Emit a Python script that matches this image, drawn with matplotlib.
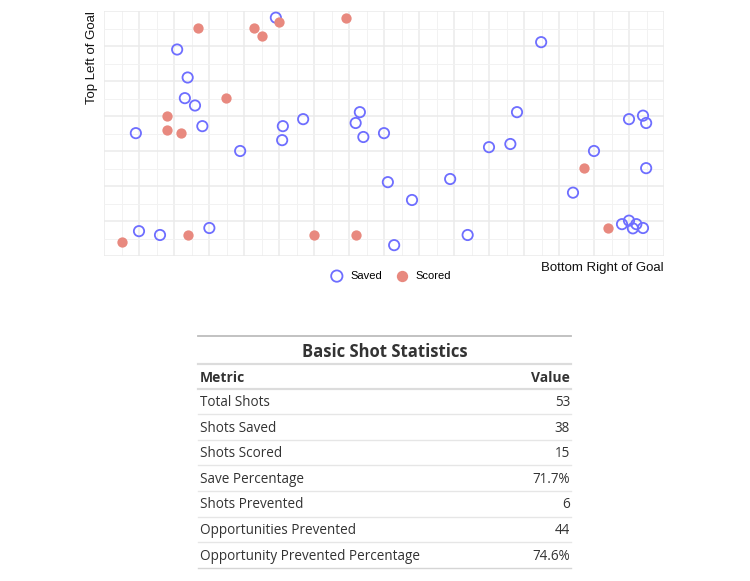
import matplotlib
matplotlib.use('Agg')
import matplotlib.pyplot as plt
import numpy as np

# shot locations on the goal face (x: 0-16 across, y: 0-7 up)
saved_x = [4.91, 2.09, 2.39, 2.31, 2.60, 0.91, 2.81, 5.11, 5.09, 5.69, 3.89, 7.31, 7.19,
           7.41, 1.00, 1.60, 3.01, 8.00, 12.49, 11.80, 11.00, 11.61, 8.11, 9.89, 8.80,
           8.29, 10.39, 14.00, 13.40, 15.00, 15.40, 15.49, 15.49, 14.80, 15.00, 15.21,
           15.11, 15.40]
saved_y = [6.81, 5.90, 5.10, 4.51, 4.30, 3.51, 3.71, 3.71, 3.31, 3.91, 3.00, 4.11, 3.80,
           3.40, 0.71, 0.60, 0.80, 3.51, 6.11, 4.11, 3.11, 3.20, 2.11, 2.20, 1.60,
           0.31, 0.60, 3.00, 1.81, 3.91, 4.01, 3.80, 2.51, 0.91, 1.01, 0.91,
           0.79, 0.80]
scored_x = [2.69, 4.29, 4.51, 5.01, 6.91, 3.49, 1.80, 1.80, 2.20, 0.51, 2.39, 6.01, 7.20,
            13.71, 14.40]
scored_y = [6.51, 6.51, 6.30, 6.70, 6.81, 4.51, 4.00, 3.61, 3.51, 0.41, 0.60, 0.60, 0.60,
            2.51, 0.80]

metrics = ['Total Shots', 'Shots Saved', 'Shots Scored', 'Save Percentage',
           'Shots Prevented', 'Opportunities Prevented', 'Opportunity Prevented Percentage']
values = ['53', '38', '15', '71.7%', '6', '44', '74.6%']

W, H = 750, 581
fig = plt.figure(figsize=(7.5, 5.81), dpi=100)

# --- scatter of shot placement ---
ax = fig.add_axes([104 / W, 1 - 256 / H, 560 / W, 245 / H])
ax.set_xlim(0, 16)
ax.set_ylim(0, 7)
ax.set_xticks(np.arange(0, 17, 1))
ax.set_yticks(np.arange(0, 8, 1))
ax.set_xticks(np.arange(0.5, 16, 1), minor=True)
ax.set_yticks(np.arange(0.5, 7, 1), minor=True)
ax.grid(which='major', color='#EBEBEB', linewidth=1.1)
ax.grid(which='minor', color='#F2F2F2', linewidth=0.7)
ax.tick_params(which='both', length=0, labelbottom=False, labelleft=False)
for s in ax.spines.values():
    s.set_visible(False)
ax.set_axisbelow(True)

ax.scatter(saved_x, saved_y, s=55, facecolors='none', edgecolors='#6E6EFF',
           linewidths=1.3, label='Saved', zorder=3)
ax.scatter(scored_x, scored_y, s=55, color='#E8897F', linewidths=0,
           label='Scored', zorder=3)

fig.text(92 / W, 1 - 58 / H, 'Top Left of Goal', rotation=90, ha='center', va='center',
         fontsize=9.5, family='Liberation Sans', color='#111111')
fig.text(664 / W, 1 - 268 / H, 'Bottom Right of Goal', ha='right', va='center',
         fontsize=9.5, family='Liberation Sans', color='#111111')

leg = ax.legend(loc='center', bbox_to_anchor=(391 / W, 1 - 276 / H),
                bbox_transform=fig.transFigure, ncol=2, frameon=False,
                prop={'family': 'Liberation Sans', 'size': 8},
                handletextpad=0.7, columnspacing=1.3, handlelength=1.0,
                markerscale=1.1)

# --- statistics table ---
tx = fig.add_axes([0, 0, 1, 1])
tx.set_xlim(0, W)
tx.set_ylim(H, 0)
tx.axis('off')

left, right = 198, 571
font = 'Open Sans'
tx.plot([left, right], [336, 336], color='#BDBDBD', lw=1.3)
tx.text((left + right) / 2, 352, 'Basic Shot Statistics', ha='center', va='center',
        fontsize=12, fontweight='bold', family=font, color='#333333')
tx.plot([left, right], [363.5, 363.5], color='#DCDCDC', lw=1.6)
tx.text(left + 2, 377.5, 'Metric', ha='left', va='center', fontsize=10,
        fontweight='bold', family=font, color='#333333')
tx.text(right - 1, 377.5, 'Value', ha='right', va='center', fontsize=10,
        fontweight='bold', family=font, color='#333333')
tx.plot([left, right], [388.5, 388.5], color='#DCDCDC', lw=1.6)

row_h = 25.6
for i, (m, v) in enumerate(zip(metrics, values)):
    yc = 402.5 + i * row_h
    tx.text(left + 2, yc, m, ha='left', va='center', fontsize=9.75, family=font,
            color='#333333')
    tx.text(right - 1, yc, v, ha='right', va='center', fontsize=9.75, family=font,
            color='#333333')
    yl = 388.5 + (i + 1) * row_h
    tx.plot([left, right], [yl, yl], color='#E6E6E6' if i < 6 else '#D5D5D5', lw=1.0)

fig.savefig('out.png', dpi=100)
